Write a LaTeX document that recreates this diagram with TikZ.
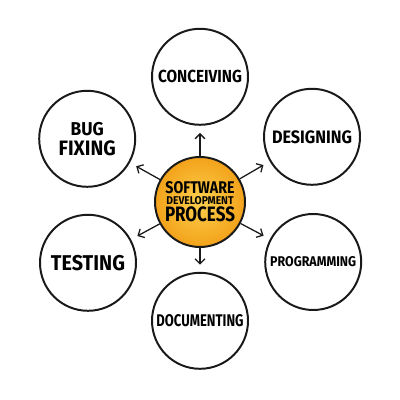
\documentclass[tikz,border=0pt]{standalone}
\usepackage{fontspec}
\setmainfont{Fira Sans}
\usetikzlibrary{arrows.meta}

\definecolor{coreedge}{RGB}{243,162,26}
\definecolor{corelight}{RGB}{252,208,78}

% word squeezed to a given width and cap height
\newcommand{\fitword}[3]{\resizebox{#1}{#2}{\fontsize{10}{12}\selectfont\bfseries #3}}

\begin{document}
\begin{tikzpicture}

    % Frame of the picture
    \useasboundingbox (0,0) rectangle (10,10);
    \fill[white] (0,0) rectangle (10,10);

    \tikzset{
        stage/.style={circle, draw=black!90, line width=1.4pt, minimum size=2.4cm, inner sep=0pt,
            align=center, font=\fontsize{1}{1}\selectfont\lineskip 0pt},
        core/.style={stage, minimum size=2.25cm, inner color=corelight, outer color=coreedge},
        spoke/.style={-{Straight Barb[length=3.5pt,width=7pt]}, line width=0.9pt, black!90, shorten >=0.18cm}
    }

    % Center of the diagram
    \coordinate (mid) at (5, 4.95);

    % Process stages
    \node[stage] (conc) at (5, 8.08) {\fitword{2.1cm}{0.31cm}{CONCEIVING}};
    \node[stage] (desi) at (7.8, 6.58) {\fitword{2.0cm}{0.32cm}{DESIGNING}};
    \node[stage] (prog) at (7.83, 3.45) {\fitword{2.15cm}{0.25cm}{PROGRAMMING}};
    \node[stage] (docu) at (5, 1.98) {\fitword{2.18cm}{0.3cm}{DOCUMENTING}};
    \node[stage] (test) at (2.2, 3.43) {\fitword{1.85cm}{0.38cm}{TESTING}};
    \node[stage] (bugf) at (2.18, 6.53) {\fitword{0.83cm}{0.33cm}{BUG}\\[3.7pt]\fitword{1.43cm}{0.37cm}{FIXING}};

    % Core
    \node[core] (core) at (mid) {\fitword{1.73cm}{0.3cm}{SOFTWARE}\\[2.1pt]\fitword{1.68cm}{0.2cm}{DEVELOPMENT}\\[1.5pt]\fitword{1.75cm}{0.37cm}{PROCESS}};

    % Arrows out of the core
    \foreach \n in {conc,desi,prog,docu,test,bugf}
        \draw[spoke] (core) -- (\n);

\end{tikzpicture}
\end{document}
